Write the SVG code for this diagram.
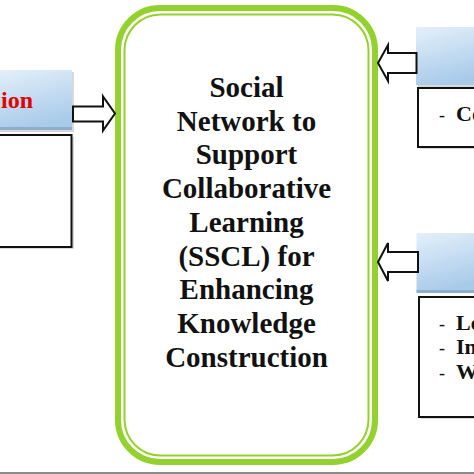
<svg xmlns="http://www.w3.org/2000/svg" width="474" height="474" viewBox="0 0 474 474">
  <defs>
    <linearGradient id="hdr" x1="0" y1="0" x2="0.3" y2="1">
      <stop offset="0" stop-color="#e4f0fa"/>
      <stop offset="1" stop-color="#a9cbea"/>
    </linearGradient>
    <style>
      .frame-outer { fill: #ffffff; stroke: #93d12e; stroke-width: 6; }
      .frame-inner { fill: none; stroke: #93d12e; stroke-width: 2; }
      .hdr { fill: url(#hdr); }
      .hdr-edge { fill: #8eaed0; }
      .shadow { fill: #b9b9b9; opacity: 0.55; }
      .body { fill: #ffffff; stroke: #111111; stroke-width: 2; }
      .arrow { fill: #ffffff; stroke: #111111; stroke-width: 2; stroke-linejoin: miter; }
      .main { font-family: "Liberation Serif", "Times New Roman", serif; font-weight: bold; font-size: 29px; fill: #111111; text-anchor: middle; }
      .item { font-family: "Liberation Serif", "Times New Roman", serif; font-weight: bold; font-size: 22px; fill: #111111; }
      .dash { font-family: "Liberation Serif", "Times New Roman", serif; font-size: 18px; fill: #111111; }
      .red { font-family: "Liberation Serif", "Times New Roman", serif; font-weight: bold; font-size: 24px; fill: #e00000; text-anchor: end; }
    </style>
  </defs>
  <rect width="474" height="474" fill="#ffffff"/>

  <g id="center-node">
    <rect class="frame-outer" x="118" y="8" width="257" height="454" rx="42"/>
    <rect class="frame-inner" x="124.5" y="14.5" width="244" height="441" rx="36"/>
    <text class="main" x="246.5" y="97">Social</text>
    <text class="main" x="246.5" y="130.7">Network to</text>
    <text class="main" x="246.5" y="164.4">Support</text>
    <text class="main" x="246.5" y="198">Collaborative</text>
    <text class="main" x="246.5" y="231.8">Learning</text>
    <text class="main" x="246.5" y="265.5">(SSCL) for</text>
    <text class="main" x="246.5" y="299.2">Enhancing</text>
    <text class="main" x="246.5" y="333">Knowledge</text>
    <text class="main" x="246.5" y="366.7">Construction</text>
  </g>

  <g id="left-node">
    <rect class="shadow" x="-3" y="72" width="77" height="60"/>
    <rect class="hdr" x="-5" y="70" width="77" height="60"/>
    <rect class="hdr-edge" x="-5" y="127" width="77" height="3"/>
    <text class="red" x="33" y="108">ion</text>
    <rect class="shadow" x="-3" y="137" width="77" height="112"/>
    <rect class="body" x="-5" y="135" width="76.5" height="112"/>
  </g>

  <g id="right-top-node">
    <rect class="shadow" x="418" y="29" width="70" height="58"/>
    <rect class="hdr" x="416" y="27" width="70" height="58"/>
    <rect class="shadow" x="420" y="90" width="70" height="59"/>
    <rect class="body" x="418" y="88" width="70" height="59"/>
    <text class="dash" x="439" y="121">-</text>
    <text class="item" x="456" y="121">Co</text>
  </g>

  <g id="right-bottom-node">
    <rect class="shadow" x="419" y="235" width="70" height="58"/>
    <rect class="hdr" x="416.5" y="233" width="70" height="58"/>
    <rect class="hdr-edge" x="416.5" y="290" width="70" height="3"/>
    <rect class="shadow" x="421" y="299" width="70" height="120"/>
    <rect class="body" x="419" y="297" width="70" height="120"/>
    <text class="dash" x="439" y="330">-</text>
    <text class="item" x="456" y="330">Le</text>
    <text class="dash" x="439" y="354">-</text>
    <text class="item" x="456" y="354">In</text>
    <text class="dash" x="439" y="379">-</text>
    <text class="item" x="456" y="379">W</text>
  </g>

  <g id="connectors">
    <polygon class="arrow" points="73,106.5 103,106.5 103,96.5 115,113.5 103,130.5 103,121.5 73,121.5"/>
    <polygon class="arrow" points="416.5,53 388,53 388,45 378,63 388,81 388,73 416.5,73"/>
    <polygon class="arrow" points="418,252 388,252 388,243 378,262 388,281 388,272 418,272"/>
  </g>

  <rect x="0" y="472" width="474" height="2" fill="#8a8a8a"/>
</svg>
